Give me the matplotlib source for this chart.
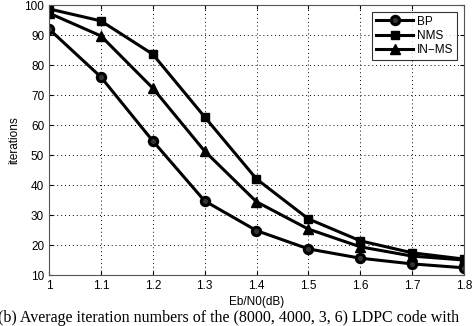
from matplotlib import pyplot as plt
import numpy as np

# data
snr = [1.0, 1.1, 1.2, 1.3, 1.4, 1.5, 1.6, 1.7, 1.8]
bp = [92, 76, 54.7, 34.7, 24.8, 18.7, 15.6, 13.7, 12.4]
nms = [98.7, 94.7, 83.6, 62.7, 42, 28.7, 21.4, 17.4, 15.3]
inms = [97.3, 89.7, 72.3, 51.3, 34.4, 25.3, 19.4, 16.3, 15]

plt.rcParams['font.family'] = ['Liberation Sans', 'DejaVu Sans']

fig = plt.figure(figsize=(4.74, 3.26), dpi=100)
ax = fig.add_axes([49/474, 1-275/326, (464-49)/474, (275-5)/326])

ax.plot(snr, bp, color='k', lw=2.2, marker='o', ms=6, mfc='#333333', mew=2.2, label='BP')
ax.plot(snr, nms, color='k', lw=2.2, marker='s', ms=6, label='NMS')
ax.plot(snr, inms, color='k', lw=2.2, marker='^', ms=7, label='IN\u2212MS')

ax.set_xlim(1, 1.8)
ax.set_ylim(10, 100)
ax.set_xticks(np.arange(1, 1.81, 0.1))
ax.set_xticklabels(['1', '1.1', '1.2', '1.3', '1.4', '1.5', '1.6', '1.7', '1.8'])
ax.set_yticks(range(10, 101, 10))
ax.grid(True, color='k', linestyle=(0, (1, 3)), lw=0.7)
ax.tick_params(direction='in', labelsize=8.5, length=3, top=True, right=True)
for s in ax.spines.values():
    s.set_color('#555555')
ax.set_xlabel('Eb/N0(dB)', fontsize=8.5, labelpad=3)
ax.set_ylabel('iterations', fontsize=8.5, labelpad=3)

leg = ax.legend(loc='upper right', fontsize=8.5, fancybox=False, edgecolor='k',
                handlelength=3.2, borderaxespad=0.6, labelspacing=0.2,
                handletextpad=0.3, borderpad=0.3)
leg.get_frame().set_linewidth(0.8)

fig.text(-0.004, 4/326, '(b) Average iteration numbers of the (8000, 4000, 3, 6) LDPC code with',
         fontsize=11.5, family=['Liberation Serif', 'DejaVu Serif'], ha='left', va='baseline')

fig.savefig('out.png', dpi=100)
